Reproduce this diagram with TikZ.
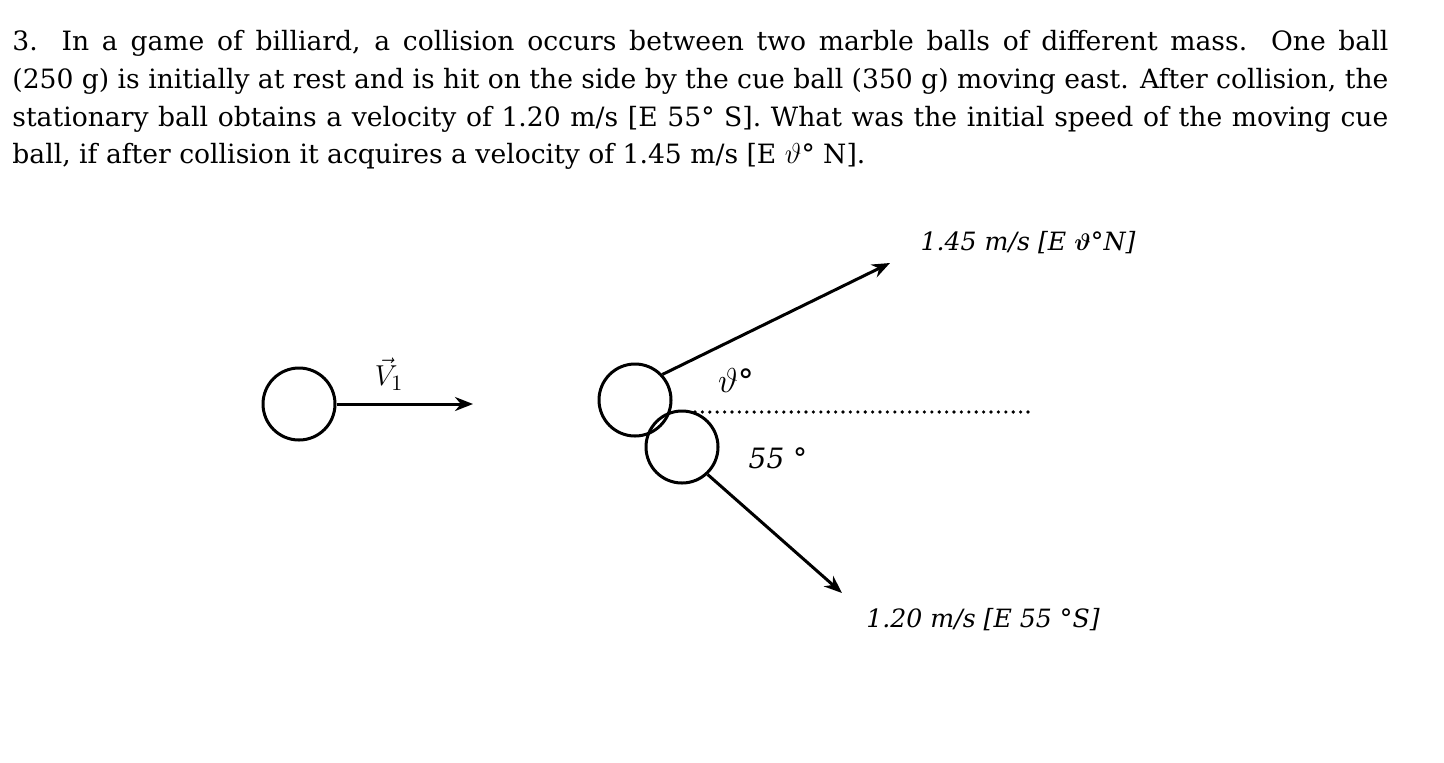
\documentclass[tikz,border=0pt]{standalone}
\usepackage{amsmath}
\usepackage{fontspec}
\setmainfont{DejaVu Serif}
\usetikzlibrary{arrows.meta}

\newcommand{\qrow}[1]{\makebox[688pt][s]{#1}}

\tikzset{
  ball/.style={draw,circle,line width=1.5pt,minimum size=36pt,inner sep=0pt},
  vec/.style={line width=1.5pt,-{Stealth[length=9pt,width=7pt]}},
  qline/.style={anchor=base west,inner sep=0pt,font=\fontsize{13.3}{16}\selectfont},
  lbl/.style={inner sep=0pt,font=\fontsize{12.6}{15}\selectfont\itshape},
  angl/.style={inner sep=0pt,font=\fontsize{14}{16}\selectfont\itshape}
}

\begin{document}
\begin{tikzpicture}[x=0.5pt,y=-0.5pt]
\useasboundingbox (0,0) rectangle (1444,762) ;

\node[qline] (q1) at (12,50) {\qrow{3.\hspace{0.9em}In a game of billiard, a collision occurs between two marble balls of different mass. One ball}} ;
\node[qline] (q2) at (12,88) {\qrow{(250 g) is initially at rest and is hit on the side by the cue ball (350 g) moving east. After collision, the}} ;
\node[qline] (q3) at (12,126) {\qrow{stationary ball obtains a velocity of 1.20 m/s [E 55° S]. What was the initial speed of the moving cue}} ;
\node[qline] (q4) at (12,163) {ball, if after collision it acquires a velocity of 1.45 m/s [E $\vartheta$° N].} ;

\node[ball] (cue) at (299,404) {} ;
\coordinate (cuetip) at (473,404) ;
\draw[vec] (cue.east) -- (cuetip) ;
\node[inner sep=0pt,font=\fontsize{15}{17}\selectfont] (v1) at (389,374) {$\vec{V}_1$} ;

\node[ball] (cueafter) at (635,400) {} ;
\node[ball] (target) at (682,447) {} ;

\coordinate (refstart) at (695,412) ;
\coordinate (refend) at (1030,412) ;
\draw[line width=1.8pt,line cap=round,dash pattern=on 0pt off 3.7pt] (refstart) -- (refend) ;

\coordinate (uptip) at (890,263) ;
\draw[vec] (cueafter.43) -- (uptip) ;
\coordinate (downtip) at (842,593) ;
\draw[vec] (target.-47) -- (downtip) ;

\node[angl,font=\fontsize{16}{18}\selectfont] (theta) at (736,380) {$\vartheta$°} ;
\node[angl] (ang55) at (778,458) {55 °} ;

\node[lbl] (vup) at (1028,243) {1.45 m/s [E $\boldsymbol{\vartheta}$°N]} ;
\node[lbl] (vdown) at (983,620) {1.20 m/s [E 55 °S]} ;

\end{tikzpicture}
\end{document}
